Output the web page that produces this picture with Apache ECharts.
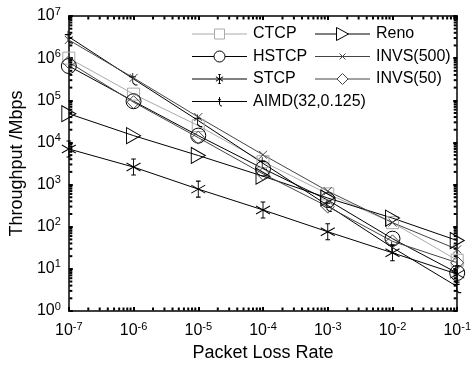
<!DOCTYPE html>
<html><head><meta charset="utf-8">
<script src="https://cdn.jsdelivr.net/npm/echarts@6/dist/echarts.min.js"></script>
<style>html,body{margin:0;padding:0;background:#fff}#c{width:474px;height:367px}</style>
</head><body><div id="c"></div>
<script>
const lossRates = [1e-7, 1e-6, 1e-5, 1e-4, 1e-3, 1e-2, 1e-1];
const ctcp   = [1.0e6, 1.4e5, 2.5e4, 3500, 600, 125, 16];
const hstcp  = [6.5e5, 9.5e4, 1.45e4, 2400, 430, 52, 8];
const stcp   = [7000, 2600, 780, 250, 76, 24, 7.5];
const aimd   = [3.2e6, 3.2e5, 3.3e4, 3200, 320, 32, 3.8];
const reno   = [4.8e4, 1.45e4, 4900, 1580, 480, 160, 47];
const invs500= [2.7e6, 3.4e5, 4.0e4, 5100, 700, 125, 29];
const invs50 = [8.0e5, 9.0e4, 1.3e4, 1800, 300, 45, 14];
const xTicks = [-7, -6, -5, -4, -3, -2, -1];
const yTicks = [0, 1, 2, 3, 4, 5, 6, 7];
const legendCol1 = ['CTCP', 'HSTCP', 'STCP', 'AIMD(32,0.125)'];
const legendCol2 = ['Reno', 'INVS(500)', 'INVS(50)'];

const pairs = a => a.map((v, i) => [lossRates[i], v]);
const FONT = 'Liberation Sans, Arial, sans-serif';
const rich = {b: {fontSize: 16, fontFamily: FONT, color: '#000'}, s: {fontSize: 11, fontFamily: FONT, color: '#000', verticalAlign: 'top', padding: [0,0,9,0]}};
const fmt = v => '{b|10}{s|' + Math.round(Math.log10(v)) + '}';

const minorX = [], minorY = [];
xTicks.slice(0, -1).forEach(e => { for (let m = 2; m <= 9; m++) minorX.push(m * Math.pow(10, e)); });
yTicks.slice(0, -1).forEach(e => { for (let m = 2; m <= 9; m++) minorY.push(m * Math.pow(10, e)); });
const xMin = Math.pow(10, xTicks[0]), xMax = Math.pow(10, xTicks[xTicks.length - 1]);
const yMin = Math.pow(10, yTicks[0]), yMax = Math.pow(10, yTicks[yTicks.length - 1]);

const SHAPES = {
  star: {segs: [[0,-1,0,1],[-0.9,-0.5,0.9,0.5],[-0.9,0.5,0.9,-0.5],[-0.3,-1,0.3,-1],[-0.3,1,0.3,1]]},
  cross: {segs: [[-1,-1,1,1],[-1,1,1,-1]]},
  tmark: {segs: [[0,-1,0,0.6],[0,0.6,0.4,1],[0.4,1,0.8,1],[-0.5,-0.4,0.5,-0.4]]},
  tri: {poly: [[-1,-1],[1,0],[-1,1]]},
  rect: {poly: [[-1,-1],[1,-1],[1,1],[-1,1]]},
  diamond: {poly: [[0,-1],[1,0],[0,1],[-1,0]]},
  circle: {circle: true}
};
const SYM = {
  star: 'path://M0,-10L0,10M-9,-5L9,5M-9,5L9,-5M-3,-10L3,-10M-3,10L3,10',
  cross: 'path://M-5,-5L5,5M-5,5L5,-5',
  tmark: 'path://M0,-8L0,5L3,8L6,8M-4,-3L4,-3',
  tri: 'path://M-7,-8L7,0L-7,8Z',
  circle: 'circle',
  rect: 'rect',
  diamond: 'diamond'
};

const styles = {
  'CTCP': {sym: 'rect', size: 12, lsize: 10, color: '#aaaaaa', data: ctcp},
  'HSTCP': {sym: 'circle', size: 15, lsize: 11, color: '#000', data: hstcp},
  'STCP': {sym: 'star', size: [14, 16], lsize: [8, 9], color: '#000', data: stcp},
  'AIMD(32,0.125)': {sym: 'tmark', size: [8, 12], lsize: [6, 9], color: '#000', data: aimd},
  'Reno': {sym: 'tri', size: [14, 16], lsize: [12, 13], color: '#000', data: reno},
  'INVS(500)': {sym: 'cross', size: 8, lsize: 6, color: '#444', data: invs500},
  'INVS(50)': {sym: 'diamond', size: 13, lsize: 11, color: '#444', data: invs50}
};

function s(name) {
  const st = styles[name];
  return {name, type: 'line', data: pairs(st.data), symbol: SYM[st.sym], symbolSize: st.size,
    lineStyle: {color: st.color, width: 1}, itemStyle: {color: 'none', borderColor: st.color, borderWidth: 1},
    emphasis: {disabled: true}, animation: false, z: 2};
}

function symbolEls(shapeName, cx, cy, sz, color) {
  const sh = SHAPES[shapeName];
  const hx = sz[0] / 2, hy = sz[1] / 2;
  const style = {fill: '#fff', stroke: color, lineWidth: 1};
  if (sh.circle) return [{type: 'circle', shape: {cx, cy, r: hx}, style, z: 102}];
  if (sh.poly) return [{type: 'polygon', shape: {points: sh.poly.map(p => [cx + p[0] * hx, cy + p[1] * hy])}, style, z: 102}];
  return sh.segs.map(g => ({type: 'line', shape: {x1: cx + g[0] * hx, y1: cy + g[1] * hy, x2: cx + g[2] * hx, y2: cy + g[3] * hy},
    style: {stroke: color, lineWidth: 1}, z: 102}));
}

function legendItems(names, x0, yStart) {
  let out = [];
  names.forEach((n, i) => {
    const st = styles[n];
    const y = yStart + i * 22.5;
    const sz = Array.isArray(st.lsize) ? st.lsize : [st.lsize, st.lsize];
    out.push({type: 'line', shape: {x1: x0, y1: y, x2: x0 + 55, y2: y}, style: {stroke: st.color, lineWidth: 1}, z: 101});
    out = out.concat(symbolEls(st.sym, x0 + 27.5, y, sz, st.color));
    out.push({type: 'text', x: x0 + 61, y: y, style: {text: n, fontSize: 16, fontFamily: FONT, fill: '#000', verticalAlign: 'middle'}, z: 102});
  });
  return out;
}

// minor ticks drawn as tiny scatter marks positioned by the log axes
function tickSeries(data, size, offset) {
  return {type: 'scatter', data, symbol: 'rect', symbolSize: size, symbolOffset: offset,
    itemStyle: {color: '#000', opacity: 1}, silent: true, clip: false, animation: false, z: 5, emphasis: {disabled: true}};
}

const chart = echarts.init(document.getElementById('c'));
const axisCommon = {
  type: 'log', logBase: 10,
  axisLine: {lineStyle: {color: '#000', width: 1.5}},
  axisTick: {inside: true, length: 4, lineStyle: {color: '#000', width: 2}},
  minorTick: {show: false},
  splitLine: {show: false}
};

chart.setOption({
  animation: false,
  grid: {left: 61, right: 14, top: 16, bottom: 53},
  graphic: [{type: 'rect', shape: {x: 190, y: 22, width: 250, height: 90}, style: {fill: '#fff'}, z: 100}]
    .concat(legendItems(legendCol1, 192, 34), legendItems(legendCol2, 315, 34)),
  xAxis: [
    Object.assign({}, axisCommon, {min: xMin, max: xMax, position: 'bottom',
      axisLabel: {formatter: fmt, rich, margin: 10},
      name: 'Packet Loss Rate', nameLocation: 'middle', nameGap: 33,
      nameTextStyle: {fontSize: 18, fontFamily: FONT, color: '#000'}}),
    Object.assign({}, axisCommon, {min: xMin, max: xMax, position: 'top', axisLabel: {show: false}})
  ],
  yAxis: [
    Object.assign({}, axisCommon, {min: yMin, max: yMax, position: 'left',
      axisLabel: {formatter: fmt, rich, margin: 8},
      name: 'Throughput /Mbps', nameLocation: 'middle', nameGap: 38,
      nameTextStyle: {fontSize: 18, fontFamily: FONT, color: '#000'}}),
    Object.assign({}, axisCommon, {min: yMin, max: yMax, position: 'right', axisLabel: {show: false}})
  ],
  series: legendCol1.concat(legendCol2).map(s).concat([
    tickSeries(minorX.map(v => [v, yMin]), [2, 3], [0, -2]),
    tickSeries(minorX.map(v => [v, yMax]), [2, 3], [0, 2]),
    tickSeries(minorY.map(v => [xMin, v]), [3, 2], [2, 0]),
    tickSeries(minorY.map(v => [xMax, v]), [3, 2], [-2, 0])
  ])
});
</script></body></html>
